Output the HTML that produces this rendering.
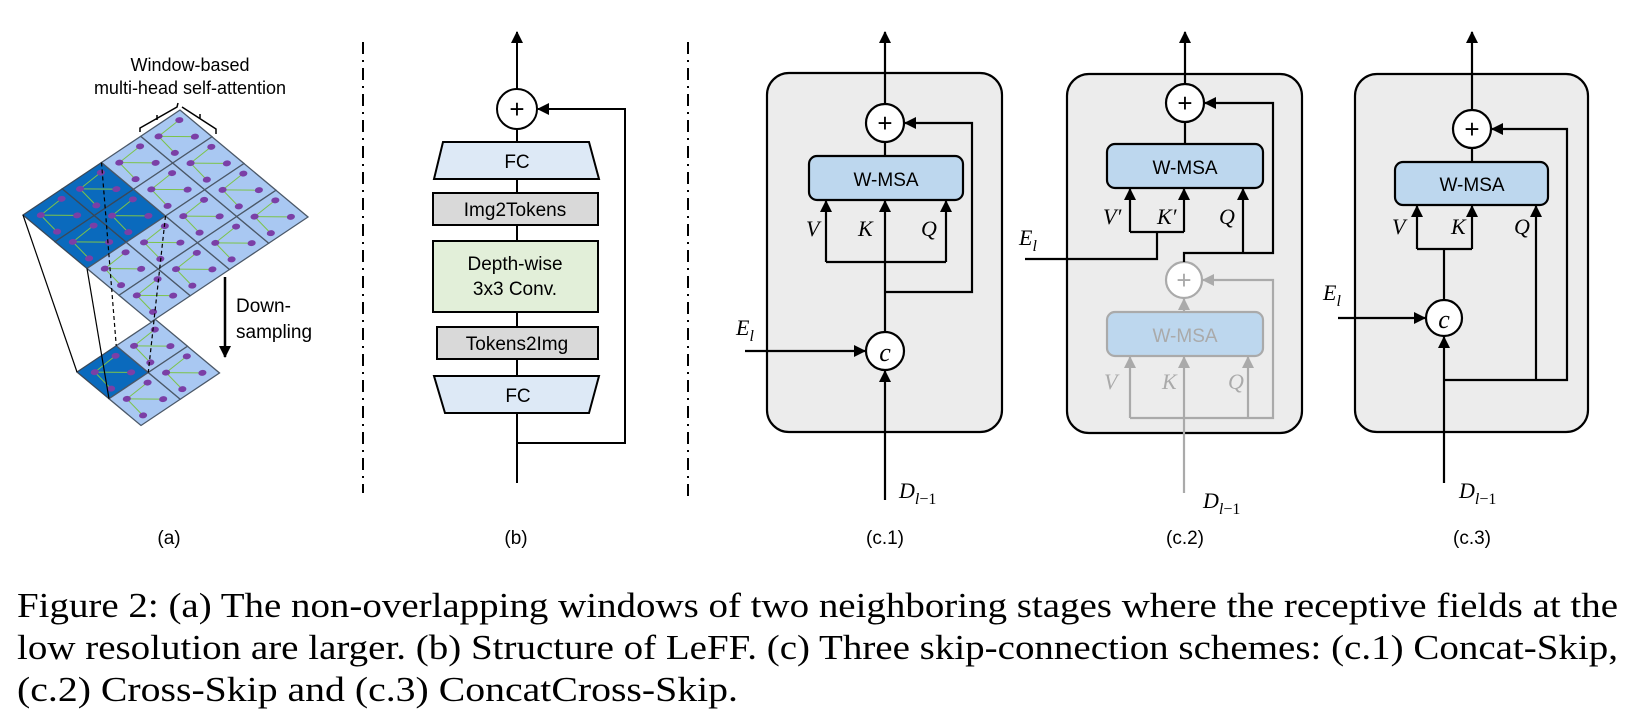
<!DOCTYPE html>
<html><head><meta charset="utf-8"><style>
html,body{margin:0;padding:0;background:#fff;}
svg{display:block;}
.sans{font-family:"Liberation Sans",sans-serif;}
.ser{font-family:"Liberation Serif",serif;}
.it{font-family:"Liberation Serif",serif;font-style:italic;}
</style></head><body>
<svg width="1636" height="722" viewBox="0 0 1636 722" xmlns="http://www.w3.org/2000/svg">
<defs>
<marker id="ah" markerUnits="userSpaceOnUse" markerWidth="12" markerHeight="12" refX="11" refY="6" orient="auto"><path d="M0,0 L12,6 L0,12 z" fill="#000"/></marker>
<marker id="ag" markerUnits="userSpaceOnUse" markerWidth="12" markerHeight="12" refX="11" refY="6" orient="auto"><path d="M0,0 L12,6 L0,12 z" fill="#aaa"/></marker>
<marker id="gh" markerUnits="userSpaceOnUse" markerWidth="5" markerHeight="5" refX="4" refY="2.5" orient="auto"><path d="M0,0 L5,2.5 L0,5 z" fill="#7cc34a"/></marker>
<g id="cellL">
<polygon points="0,0 1,0 1,1 0,1" fill="#a9c8f2" stroke="#4b5868" stroke-width="1.3" vector-effect="non-scaling-stroke"/>
<g stroke="#7cc34a" stroke-width="1" vector-effect="non-scaling-stroke" fill="none">
<line x1="0.25" y1="0.25" x2="0.78" y2="0.2" vector-effect="non-scaling-stroke"/>
<line x1="0.25" y1="0.25" x2="0.72" y2="0.72" vector-effect="non-scaling-stroke"/>
<line x1="0.25" y1="0.25" x2="0.2" y2="0.78" vector-effect="non-scaling-stroke"/>
</g>
<g fill="#7b3fa6"><circle cx="0.25" cy="0.25" r="0.08"/><circle cx="0.82" cy="0.2" r="0.08"/><circle cx="0.76" cy="0.76" r="0.08"/><circle cx="0.2" cy="0.82" r="0.08"/></g>
</g>
<g id="cellD">
<polygon points="0,0 1,0 1,1 0,1" fill="#0a6abd" stroke="#3a4858" stroke-width="1.3" vector-effect="non-scaling-stroke"/>
<g stroke="#7cc34a" stroke-width="1" fill="none">
<line x1="0.25" y1="0.25" x2="0.78" y2="0.2" vector-effect="non-scaling-stroke"/>
<line x1="0.25" y1="0.25" x2="0.72" y2="0.72" vector-effect="non-scaling-stroke"/>
<line x1="0.25" y1="0.25" x2="0.2" y2="0.78" vector-effect="non-scaling-stroke"/>
</g>
<g fill="#7b3fa6"><circle cx="0.25" cy="0.25" r="0.08"/><circle cx="0.82" cy="0.2" r="0.08"/><circle cx="0.76" cy="0.76" r="0.08"/><circle cx="0.2" cy="0.82" r="0.08"/></g>
</g>
</defs>

<!-- Panel (a) -->
<text class="sans" x="190" y="71" font-size="18" text-anchor="middle">Window-based</text>
<text class="sans" x="190" y="94" font-size="18" text-anchor="middle">multi-head self-attention</text>
<polyline points="140,132 140,128 177,107 178,103" fill="none" stroke="#000" stroke-width="1.5"/>
<polyline points="182,107 216,129 216,134" fill="none" stroke="#000" stroke-width="1.5"/>
<line x1="157" y1="120" x2="157" y2="115" stroke="#000" stroke-width="1.5"/>
<line x1="200" y1="118" x2="200" y2="114" stroke="#000" stroke-width="1.5"/>

<!-- big grid: L0=(23,215) a=(39.25,-26.25) v=(32,26.75) -->
<use href="#cellD" transform="matrix(39.25 -26.25 32 26.75 23 215)"/>
<use href="#cellD" transform="matrix(39.25 -26.25 32 26.75 62.25 188.75)"/>
<use href="#cellL" transform="matrix(39.25 -26.25 32 26.75 101.5 162.5)"/>
<use href="#cellL" transform="matrix(39.25 -26.25 32 26.75 140.75 136.25)"/>
<use href="#cellD" transform="matrix(39.25 -26.25 32 26.75 55 241.75)"/>
<use href="#cellD" transform="matrix(39.25 -26.25 32 26.75 94.25 215.5)"/>
<use href="#cellL" transform="matrix(39.25 -26.25 32 26.75 133.5 189.25)"/>
<use href="#cellL" transform="matrix(39.25 -26.25 32 26.75 172.75 163)"/>
<use href="#cellL" transform="matrix(39.25 -26.25 32 26.75 87 268.5)"/>
<use href="#cellL" transform="matrix(39.25 -26.25 32 26.75 126.25 242.25)"/>
<use href="#cellL" transform="matrix(39.25 -26.25 32 26.75 165.5 216)"/>
<use href="#cellL" transform="matrix(39.25 -26.25 32 26.75 204.75 189.75)"/>
<use href="#cellL" transform="matrix(39.25 -26.25 32 26.75 119 295.25)"/>
<use href="#cellL" transform="matrix(39.25 -26.25 32 26.75 158.25 269)"/>
<use href="#cellL" transform="matrix(39.25 -26.25 32 26.75 197.5 242.75)"/>
<use href="#cellL" transform="matrix(39.25 -26.25 32 26.75 236.75 216.5)"/>
<!-- small grid -->
<use href="#cellD" transform="matrix(39.25 -26.25 32 26.75 77 372)"/>
<use href="#cellL" transform="matrix(39.25 -26.25 32 26.75 116.25 345.75)"/>
<use href="#cellL" transform="matrix(39.25 -26.25 32 26.75 109 398.75)"/>
<use href="#cellL" transform="matrix(39.25 -26.25 32 26.75 148.25 372.5)"/>
<!-- connecting lines -->
<line x1="23" y1="215" x2="77" y2="372" stroke="#000" stroke-width="1.2"/>
<line x1="87" y1="268.5" x2="109" y2="398.75" stroke="#000" stroke-width="1.2"/>
<line x1="101.5" y1="162.5" x2="116.25" y2="345.75" stroke="#000" stroke-width="1.2" stroke-dasharray="4,3"/>
<line x1="165.5" y1="216" x2="148.25" y2="372.5" stroke="#000" stroke-width="1.2" stroke-dasharray="4,3"/>
<line x1="225" y1="277" x2="225" y2="357" stroke="#000" stroke-width="2.5" marker-end="url(#ah)"/>
<text class="sans" x="236" y="312" font-size="19">Down-</text>
<text class="sans" x="236" y="338" font-size="19">sampling</text>
<text class="sans" x="169" y="544" font-size="19" text-anchor="middle">(a)</text>

<!-- separators -->
<line x1="363" y1="42" x2="363" y2="493" stroke="#000" stroke-width="2" stroke-dasharray="12,6,2,6"/>
<line x1="688" y1="42" x2="688" y2="500" stroke="#000" stroke-width="2" stroke-dasharray="12,6,2,6"/>

<!-- Panel (b) -->
<g stroke="#000" stroke-width="2" fill="none">
<line x1="517" y1="90" x2="517" y2="32" marker-end="url(#ah)"/>
<line x1="517" y1="483" x2="517" y2="130"/>
<polyline points="517,443 625,443 625,109 538,109" marker-end="url(#ah)"/>
</g>
<circle cx="517" cy="109" r="20" fill="#fff" stroke="#000" stroke-width="2"/>
<text class="sans" x="517" y="118" font-size="26" text-anchor="middle">+</text>
<polygon points="443,142 589,142 599,179 434,179" fill="#dde9f6" stroke="#000" stroke-width="2"/>
<text class="sans" x="517" y="168" font-size="19" text-anchor="middle">FC</text>
<rect x="433" y="193" width="165" height="32" fill="#d9d9d9" stroke="#000" stroke-width="2"/>
<text class="sans" x="515" y="216" font-size="19" text-anchor="middle">Img2Tokens</text>
<rect x="433" y="241" width="165" height="71" fill="#e2efd9" stroke="#000" stroke-width="2"/>
<text class="sans" x="515" y="270" font-size="19" text-anchor="middle">Depth-wise</text>
<text class="sans" x="515" y="295" font-size="19" text-anchor="middle">3x3 Conv.</text>
<rect x="437" y="327" width="161" height="32" fill="#d9d9d9" stroke="#000" stroke-width="2"/>
<text class="sans" x="517" y="350" font-size="19" text-anchor="middle">Tokens2Img</text>
<polygon points="434,376 599,376 589,413 445,413" fill="#dde9f6" stroke="#000" stroke-width="2"/>
<text class="sans" x="518" y="402" font-size="19" text-anchor="middle">FC</text>
<text class="sans" x="516" y="544" font-size="19" text-anchor="middle">(b)</text>

<!-- Panel c.1 -->
<rect x="767" y="73" width="235" height="359" rx="22" fill="#ececec" stroke="#000" stroke-width="2.2"/>
<g stroke="#000" stroke-width="2.2" fill="none">
<line x1="885" y1="104" x2="885" y2="32" marker-end="url(#ah)"/>
<line x1="885" y1="156" x2="885" y2="142"/>
<line x1="885" y1="500" x2="885" y2="371" marker-end="url(#ah)"/>
<line x1="745" y1="351" x2="865" y2="351" marker-end="url(#ah)"/>
<line x1="885" y1="332" x2="885" y2="201" marker-end="url(#ah)"/>
<polyline points="826,262 826,201" marker-end="url(#ah)"/>
<polyline points="946,262 946,201" marker-end="url(#ah)"/>
<line x1="826" y1="262" x2="946" y2="262"/>
<polyline points="885,292 972,292 972,123 905,123" marker-end="url(#ah)"/>
</g>
<rect x="809" y="156" width="154" height="44" rx="8" fill="#bdd7ee" stroke="#000" stroke-width="2.2"/>
<text class="sans" x="886" y="186" font-size="19" text-anchor="middle">W-MSA</text>
<circle cx="885" cy="123" r="19" fill="#fff" stroke="#000" stroke-width="2.2"/>
<text class="sans" x="885" y="132" font-size="26" text-anchor="middle">+</text>
<circle cx="885" cy="351" r="19" fill="#fff" stroke="#000" stroke-width="2.2"/>
<text class="it" x="885" y="361" font-size="26" text-anchor="middle">c</text>
<text class="it" x="806" y="236" font-size="22">V</text>
<text class="it" x="858" y="236" font-size="22">K</text>
<text class="it" x="921" y="236" font-size="22">Q</text>
<text class="it" x="736" y="335" font-size="22">E<tspan font-size="16" dy="6">l</tspan></text>
<text class="it" x="899" y="498" font-size="22">D<tspan font-size="16" dy="6">l</tspan><tspan font-style="normal" font-size="16">−1</tspan></text>
<text class="sans" x="885" y="544" font-size="19" text-anchor="middle">(c.1)</text>

<!-- Panel c.2 -->
<rect x="1067" y="74" width="235" height="359" rx="22" fill="#ececec" stroke="#000" stroke-width="2.2"/>
<g stroke="#aaa" stroke-width="2.2" fill="none">
<line x1="1184" y1="493" x2="1184" y2="357" marker-end="url(#ag)"/>
<line x1="1130" y1="418" x2="1130" y2="357" marker-end="url(#ag)"/>
<line x1="1248" y1="418" x2="1248" y2="357" marker-end="url(#ag)"/>
<polyline points="1130,418 1273,418 1273,280 1203,280" marker-end="url(#ag)"/>
<line x1="1184" y1="312" x2="1184" y2="299" marker-end="url(#ag)"/>
</g>
<rect x="1107" y="312" width="156" height="44" rx="8" fill="#bdd7ee" stroke="#aaa" stroke-width="2.2"/>
<text class="sans" x="1185" y="342" font-size="19" text-anchor="middle" fill="#aaa">W-MSA</text>
<circle cx="1184" cy="280" r="18" fill="#fff" stroke="#aaa" stroke-width="2.2"/>
<text class="sans" x="1184" y="289" font-size="26" text-anchor="middle" fill="#aaa">+</text>
<text class="it" x="1104" y="389" font-size="22" fill="#aaa">V</text>
<text class="it" x="1162" y="389" font-size="22" fill="#aaa">K</text>
<text class="it" x="1228" y="389" font-size="22" fill="#aaa">Q</text>
<g stroke="#000" stroke-width="2.2" fill="none">
<line x1="1185" y1="84" x2="1185" y2="32" marker-end="url(#ah)"/>
<line x1="1185" y1="144" x2="1185" y2="122"/>
<line x1="1130" y1="232" x2="1130" y2="189" marker-end="url(#ah)"/>
<line x1="1184" y1="232" x2="1184" y2="189" marker-end="url(#ah)"/>
<line x1="1130" y1="232" x2="1184" y2="232"/>
<polyline points="1157,232 1157,259 1025,259"/>
<line x1="1243" y1="253" x2="1243" y2="189" marker-end="url(#ah)"/>
<polyline points="1184,262 1184,253 1273,253 1273,103 1205,103" marker-end="url(#ah)"/>
</g>
<rect x="1107" y="144" width="156" height="44" rx="8" fill="#bdd7ee" stroke="#000" stroke-width="2.2"/>
<text class="sans" x="1185" y="174" font-size="19" text-anchor="middle">W-MSA</text>
<circle cx="1185" cy="103" r="19" fill="#fff" stroke="#000" stroke-width="2.2"/>
<text class="sans" x="1185" y="112" font-size="26" text-anchor="middle">+</text>
<text class="it" x="1103" y="224" font-size="22">V′</text>
<text class="it" x="1157" y="224" font-size="22">K′</text>
<text class="it" x="1219" y="224" font-size="22">Q</text>
<text class="it" x="1019" y="245" font-size="22">E<tspan font-size="16" dy="6">l</tspan></text>
<text class="it" x="1203" y="508" font-size="22">D<tspan font-size="16" dy="6">l</tspan><tspan font-style="normal" font-size="16">−1</tspan></text>
<text class="sans" x="1185" y="544" font-size="19" text-anchor="middle">(c.2)</text>

<!-- Panel c.3 -->
<rect x="1355" y="74" width="233" height="358" rx="22" fill="#ececec" stroke="#000" stroke-width="2.2"/>
<g stroke="#000" stroke-width="2.2" fill="none">
<line x1="1472" y1="110" x2="1472" y2="32" marker-end="url(#ah)"/>
<line x1="1472" y1="162" x2="1472" y2="148"/>
<line x1="1444" y1="483" x2="1444" y2="337" marker-end="url(#ah)"/>
<line x1="1338" y1="318" x2="1425" y2="318" marker-end="url(#ah)"/>
<line x1="1444" y1="300" x2="1444" y2="249"/>
<line x1="1417" y1="249" x2="1417" y2="206" marker-end="url(#ah)"/>
<line x1="1472" y1="249" x2="1472" y2="206" marker-end="url(#ah)"/>
<line x1="1417" y1="249" x2="1472" y2="249"/>
<line x1="1536" y1="380" x2="1536" y2="206" marker-end="url(#ah)"/>
<polyline points="1444,380 1567,380 1567,129 1492,129" marker-end="url(#ah)"/>
</g>
<rect x="1395" y="162" width="153" height="43" rx="8" fill="#bdd7ee" stroke="#000" stroke-width="2.2"/>
<text class="sans" x="1472" y="191" font-size="19" text-anchor="middle">W-MSA</text>
<circle cx="1472" cy="129" r="19" fill="#fff" stroke="#000" stroke-width="2.2"/>
<text class="sans" x="1472" y="138" font-size="26" text-anchor="middle">+</text>
<circle cx="1444" cy="318" r="18" fill="#fff" stroke="#000" stroke-width="2.2"/>
<text class="it" x="1444" y="328" font-size="26" text-anchor="middle">c</text>
<text class="it" x="1392" y="234" font-size="22">V</text>
<text class="it" x="1451" y="234" font-size="22">K</text>
<text class="it" x="1514" y="234" font-size="22">Q</text>
<text class="it" x="1323" y="300" font-size="22">E<tspan font-size="16" dy="6">l</tspan></text>
<text class="it" x="1459" y="498" font-size="22">D<tspan font-size="16" dy="6">l</tspan><tspan font-style="normal" font-size="16">−1</tspan></text>
<text class="sans" x="1472" y="544" font-size="19" text-anchor="middle">(c.3)</text>

<!-- Caption -->
<text class="ser" x="17" y="617" font-size="35" textLength="1601" lengthAdjust="spacingAndGlyphs">Figure 2: (a) The non-overlapping windows of two neighboring stages where the receptive fields at the</text>
<text class="ser" x="17" y="659" font-size="35" textLength="1601" lengthAdjust="spacingAndGlyphs">low resolution are larger. (b) Structure of LeFF. (c) Three skip-connection schemes: (c.1) Concat-Skip,</text>
<text class="ser" x="17" y="701" font-size="35" textLength="721" lengthAdjust="spacingAndGlyphs">(c.2) Cross-Skip and (c.3) ConcatCross-Skip.</text>
</svg>
</body></html>
